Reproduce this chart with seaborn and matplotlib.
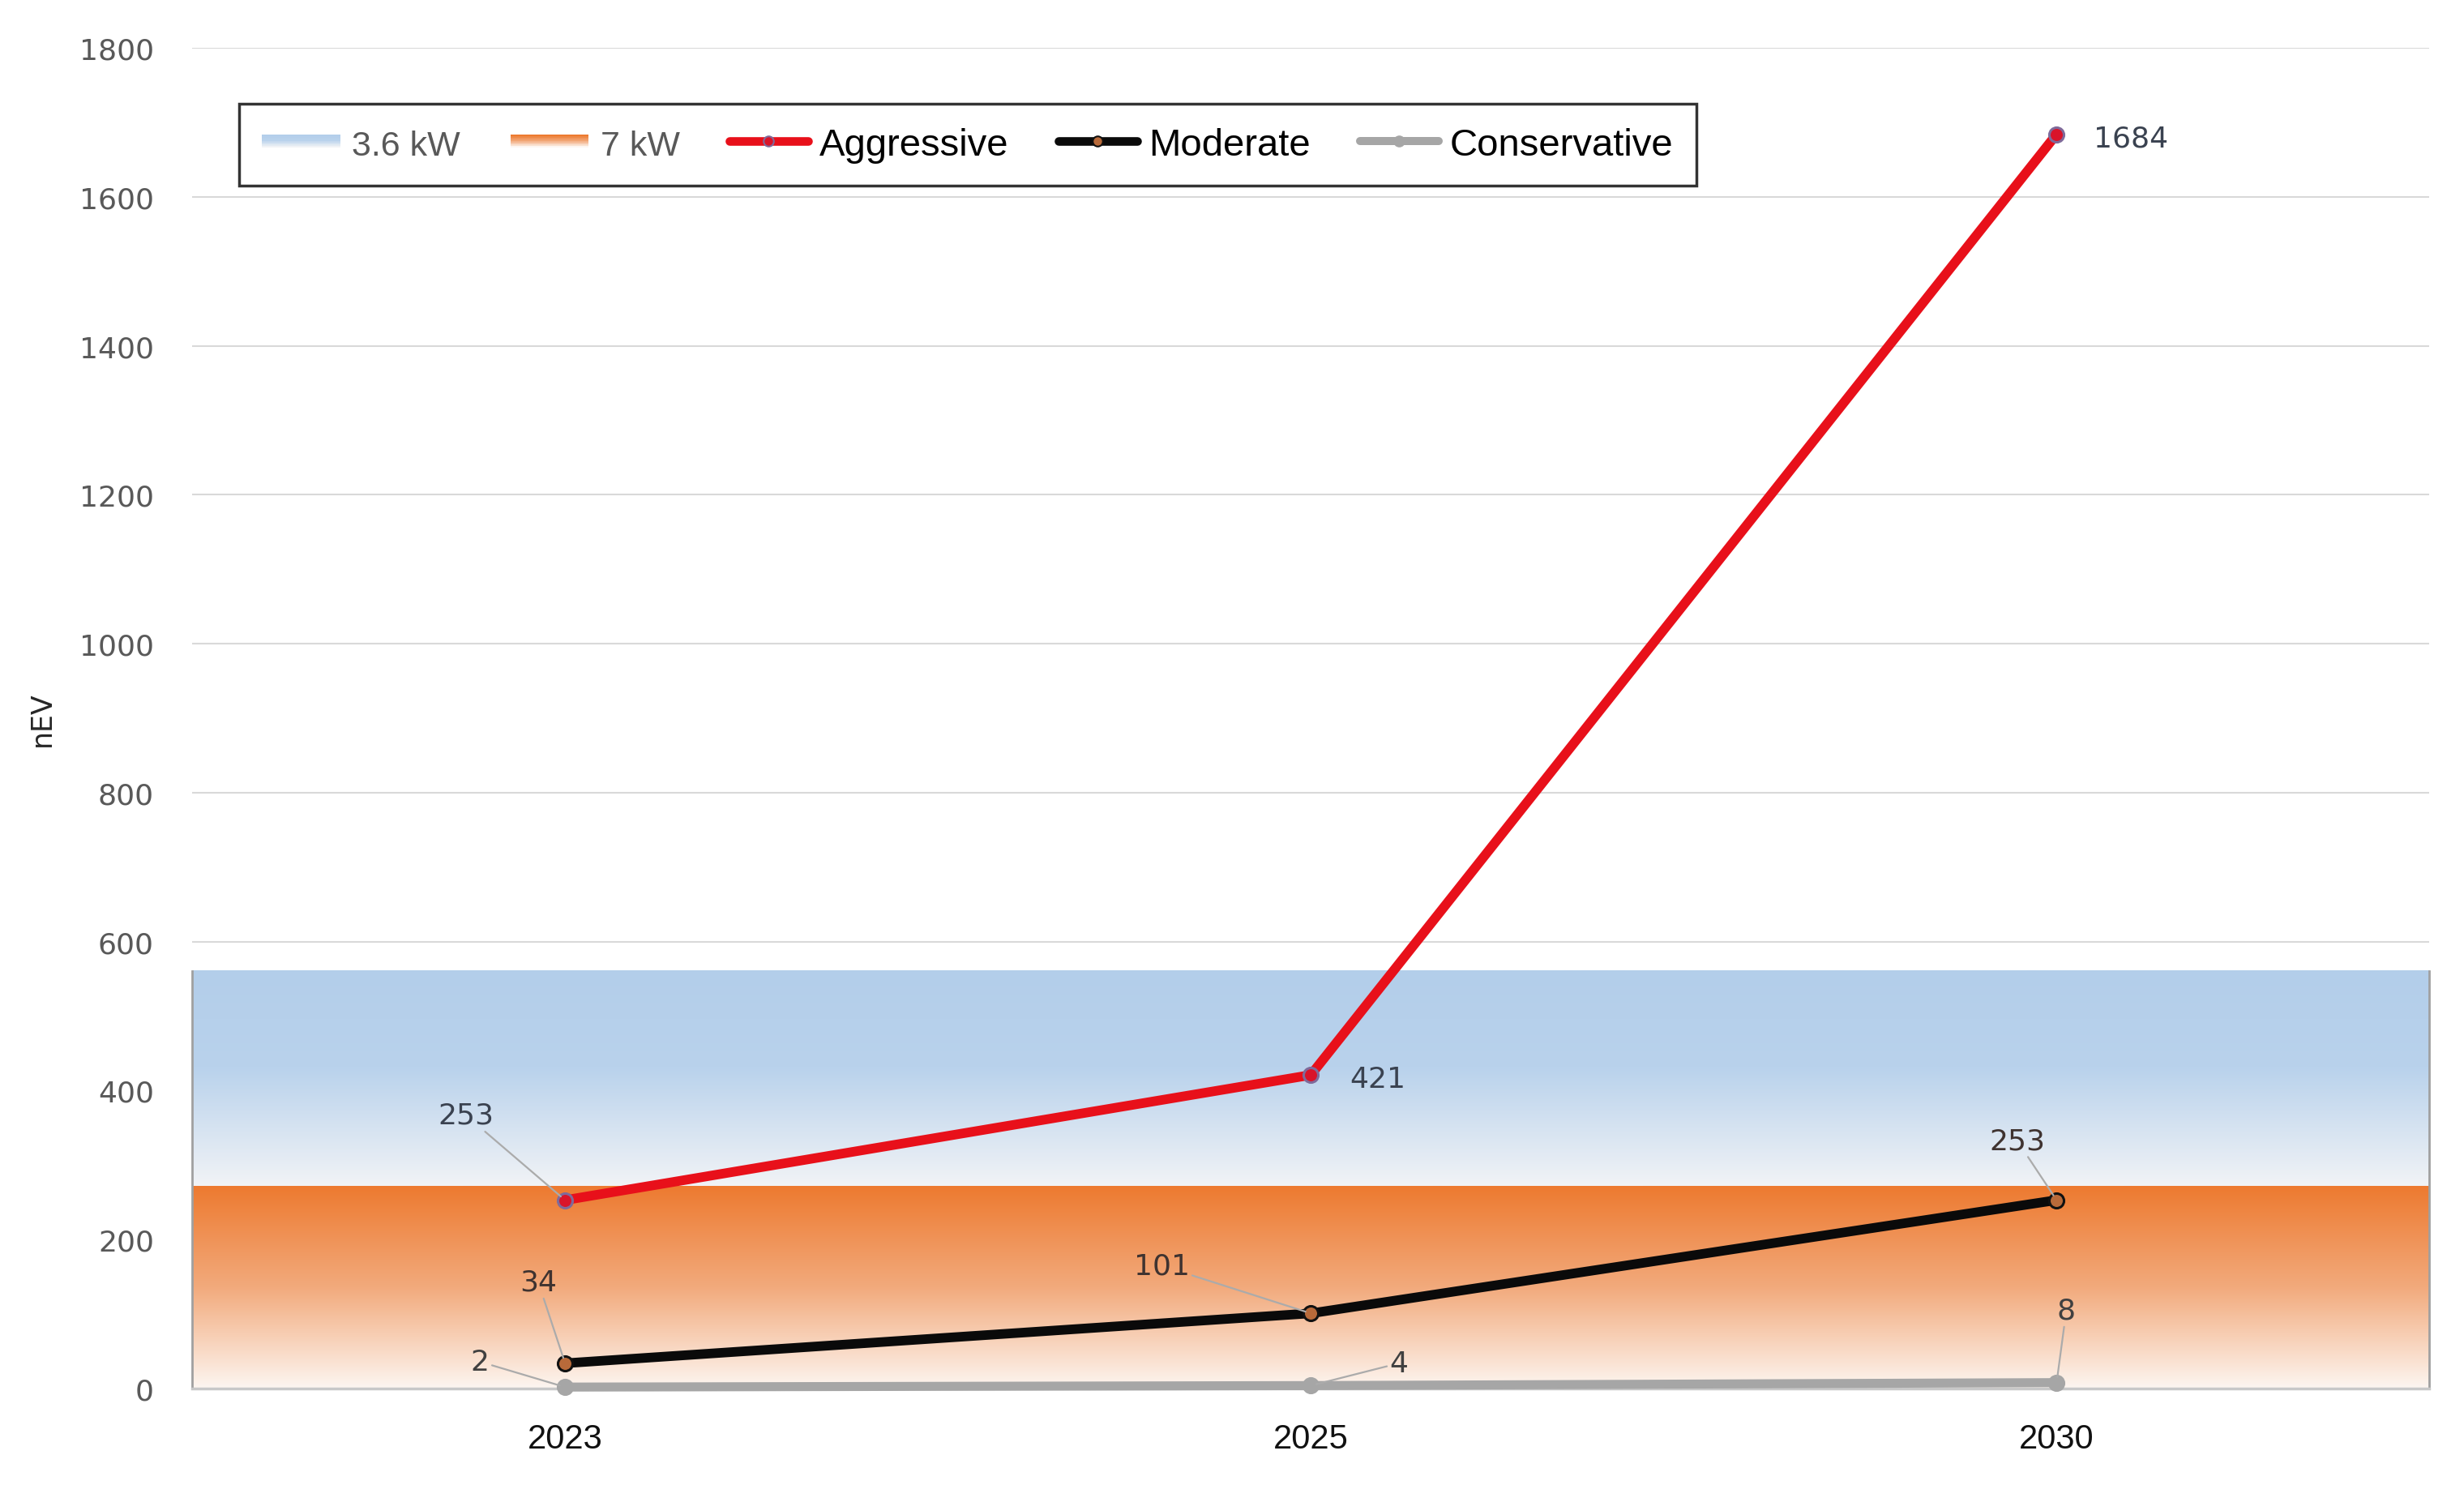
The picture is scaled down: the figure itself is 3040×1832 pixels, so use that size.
import numpy as np
import pandas as pd
import matplotlib
matplotlib.use("Agg")
import matplotlib.pyplot as plt
import seaborn as sns
from matplotlib.lines import Line2D
from matplotlib.patches import Rectangle
from matplotlib.legend_handler import HandlerBase
import matplotlib.colors as mcolors

# ---------------- data ----------------
years = ["2023", "2025", "2030"]
aggressive = [253, 421, 1684]
moderate = [34, 101, 253]
conservative = [2, 4, 8]
band_36kw = [272, 561]   # nEV range shaded for 3.6 kW
band_7kw = [0, 272]      # nEV range shaded for 7 kW
y_ticks = [0, 200, 400, 600, 800, 1000, 1200, 1400, 1600, 1800]

# label offsets (x in category units, y in data units) - styling only
agg_lab = [(-0.133, 367, True), (1.09, 416, False), (2.10, 1679, False)]
mod_lab = [(-0.036, 143, True), (0.80, 165, True), (1.947, 333, True)]
con_lab = [(-0.114, 36, True), (1.118, 34, True), (2.013, 105, True)]

sns.set_theme(style="white")
plt.rcParams["font.family"] = ["DejaVu Sans"]

fig = plt.figure(figsize=(30.4, 18.33), dpi=100)
ax = fig.add_axes([0.078, 0.0649, 0.908, 0.9024])

pos = np.arange(len(years))
df = pd.DataFrame({
    "pos": np.tile(pos, 3),
    "nEV": aggressive + moderate + conservative,
    "scenario": ["Aggressive"] * 3 + ["Moderate"] * 3 + ["Conservative"] * 3,
})

# ---------------- gradient bands ----------------
def grad(stops, n=256):
    cmap = mcolors.LinearSegmentedColormap.from_list("g", stops)
    return cmap(np.linspace(0, 1, n))[:, None, :3]

blue_stops = [(0.0, "#B3CEEA"), (0.45, "#B9D2EC"), (1.0, "#F1F3F6")]
orange_stops = [(0.0, "#ED7A30"), (0.5, "#F2AA7C"), (1.0, "#FDF6F1")]
ax.imshow(grad(blue_stops), extent=[-0.5, 2.5, band_36kw[0], band_36kw[1]],
          origin="upper", aspect="auto", interpolation="bilinear", zorder=1)
ax.imshow(grad(orange_stops), extent=[-0.5, 2.5, band_7kw[0], band_7kw[1]],
          origin="upper", aspect="auto", interpolation="bilinear", zorder=1)

# ---------------- lines ----------------
styles = {
    "Conservative": dict(color="#A6A6A6", mfc="#A6A6A6", mec="#A6A6A6", lw=8),
    "Moderate": dict(color="#0A0A0A", mfc="#B86A3A", mec="#111111", lw=8.5),
    "Aggressive": dict(color="#E8101A", mfc="#D9142A", mec="#7F6A9A", lw=8.5),
}
for name in ["Conservative", "Moderate", "Aggressive"]:
    st = styles[name]
    sub = df[df["scenario"] == name]
    sns.lineplot(data=sub, x="pos", y="nEV", ax=ax, color=st["color"],
                 linewidth=st["lw"], marker="o", markersize=13,
                 markerfacecolor=st["mfc"], markeredgecolor=st["mec"],
                 markeredgewidth=2.2, zorder=4, legend=False, clip_on=False)

# ---------------- data labels ----------------
def labels(vals, offs, color):
    for i, (v, (lx, ly, lead)) in enumerate(zip(vals, offs)):
        kw = {}
        if lead:
            kw["arrowprops"] = dict(arrowstyle="-", color="#ABABAB", lw=1.6,
                                    shrinkA=0, shrinkB=5)
        ax.annotate(str(v), xy=(i, v), xytext=(lx, ly), textcoords="data",
                    ha="center", va="center", fontsize=26, color=color,
                    zorder=6, **kw)

labels(aggressive, agg_lab, "#3A4250")
labels(moderate, mod_lab, "#3F3330")
labels(conservative, con_lab, "#404040")

# ---------------- axes styling ----------------
ax.set_xlim(-0.5, 2.5)
ax.set_ylim(0, 1800)
ax.set_yticks(y_ticks)
ax.set_yticklabels([str(t) for t in y_ticks], fontsize=26, color="#595959")
ax.set_xticks(pos)
ax.set_xticklabels(years, fontsize=30, color="#111111", family="Liberation Sans")
ax.tick_params(axis="both", length=0)
ax.tick_params(axis="y", pad=34)
ax.tick_params(axis="x", pad=30)
ax.set_axisbelow(True)
ax.yaxis.grid(True, color="#D9D9D9", lw=1.5)
ax.xaxis.grid(False)
ax.set_xlabel("")
ax.set_ylabel("nEV", fontsize=25, color="#262626")
ax.yaxis.set_label_coords(-0.061, 0.5)
ax.spines["top"].set_visible(False)
ax.spines["bottom"].set_color("#C8C8C8")
ax.spines["bottom"].set_linewidth(2.5)
for s in ["left", "right"]:
    ax.spines[s].set_bounds(0, band_36kw[1])
    ax.spines[s].set_color("#A0A0A0")
    ax.spines[s].set_linewidth(2)

# ---------------- legend ----------------
class GradHandler(HandlerBase):
    def __init__(self, stops):
        super().__init__()
        self.stops = stops

    def create_artists(self, legend, orig, xd, yd, w, h, fs, trans):
        cols = grad(self.stops, 8)[:, 0, :]
        arts = []
        hh = h * 0.5
        y0 = yd + (h - hh) / 2
        n = len(cols)
        for k, c in enumerate(cols):
            arts.append(Rectangle((xd, y0 + hh - (k + 1) * hh / n), w, hh / n,
                                  facecolor=c, edgecolor="none", transform=trans))
        return arts

h36 = Rectangle((0, 0), 1, 1)
h7 = Rectangle((0, 0), 1, 1)
hand = [h36, h7]
for name in ["Aggressive", "Moderate", "Conservative"]:
    st = styles[name]
    hand.append(Line2D([0], [0], color=st["color"], lw=st["lw"] * 0.9, marker="o",
                       markersize=9, markerfacecolor=st["mfc"],
                       markeredgecolor=st["mec"], markeredgewidth=1.5))
labs = ["3.6 kW", "7 kW", "Aggressive", "Moderate", "Conservative"]
leg = ax.legend(hand, labs, ncol=5, loc="upper left",
                bbox_to_anchor=(0.021, 0.958), borderaxespad=0,
                frameon=True, fancybox=False,
                prop={"family": "Liberation Sans", "size": 34},
                handlelength=2.05, handletextpad=0.3, columnspacing=1.3,
                borderpad=0.6,
                handler_map={h36: GradHandler(blue_stops),
                             h7: GradHandler(orange_stops)})
leg.get_frame().set_edgecolor("black")
leg.get_frame().set_linewidth(2.5)
leg.set_zorder(10)
for t, lab in zip(leg.get_texts(), labs):
    if "kW" in lab:
        t.set_color("#595959")
        t.set_fontsize(31)
    else:
        t.set_color("black")

fig.savefig("out.png", dpi=100)
